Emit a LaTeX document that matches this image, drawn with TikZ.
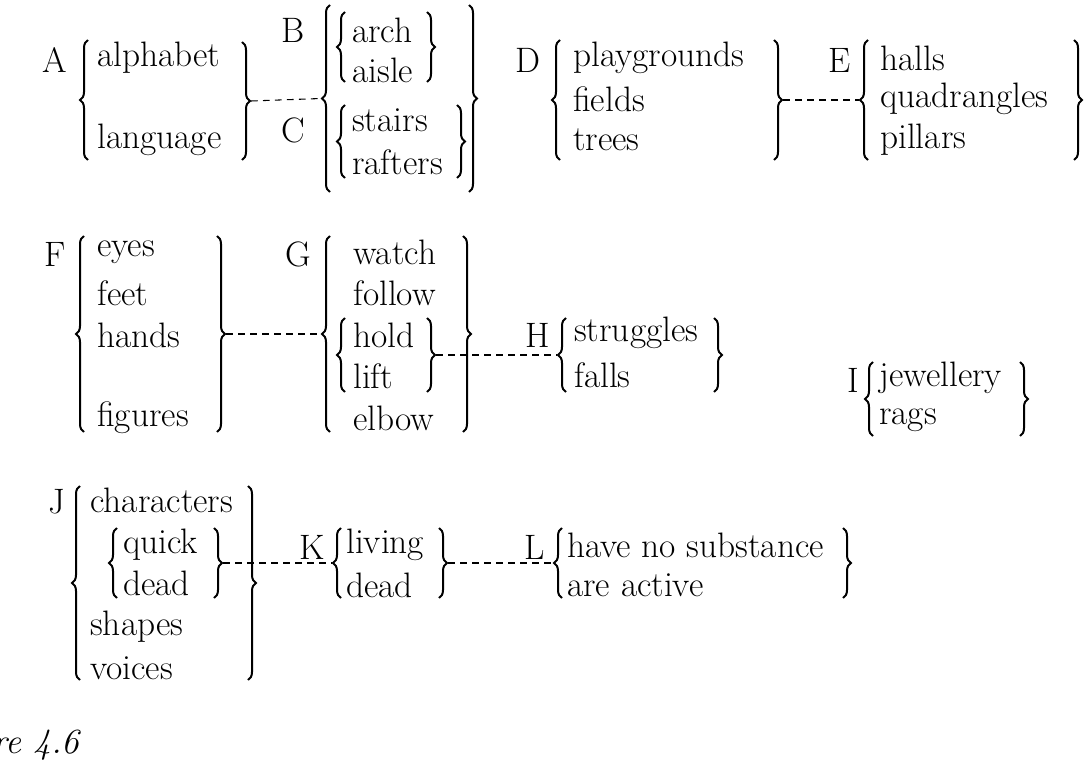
\documentclass[tikz,border=0pt]{standalone}
\usetikzlibrary{decorations.pathreplacing}
\tikzset{
  br/.style={decorate,decoration={brace,amplitude=6pt,aspect=0.5},line width=1.5pt},
  tx/.style={anchor=west,inner sep=0pt,font=\fontsize{26.5}{30}\selectfont},
  lab/.style={anchor=center,inner sep=0pt,font=\fontsize{26.5}{30}\selectfont},
  dl/.style={line width=0.8pt,dash pattern=on 5pt off 4pt}
}
\newcommand{\LBr}[4]{\draw[br] (#1,#3) -- (#1,#2); \coordinate (#4) at (#1-9,{(#2+#3)/2});}
\newcommand{\RBr}[4]{\draw[br] (#1,#2) -- (#1,#3); \coordinate (#4) at (#1+9,{(#2+#3)/2});}
\begin{document}
\begin{tikzpicture}[x=0.75pt,y=-0.75pt]
\useasboundingbox (0,0) rectangle (1090,763);
% Row 1
\node[lab] (A) at (55,60) {A};
\LBr{88}{40}{160}{aL}
\node[tx] (t1) at (97,58) {alphabet};
\node[tx] (t2) at (97,140) {language};
\RBr{242}{42}{160}{aR}
\node[lab] (B) at (293,30) {B};
\node[lab] (C) at (293,130) {C};
\LBr{330}{5}{192}{bcL}
\LBr{345}{12}{82}{bL}
\node[tx] (t3) at (352,30) {arch};
\node[tx] (t4) at (352,70) {aisle};
\RBr{427}{12}{82}{bR}
\LBr{345}{105}{178}{cL}
\node[tx] (t5) at (352,120) {stairs};
\node[tx] (t6) at (352,162) {rafters};
\RBr{457}{105}{178}{cR}
\RBr{469}{5}{192}{bcR}
\draw[dl] (aR) -- (bcL);
\node[lab] (D) at (528,60) {D};
\LBr{560}{40}{160}{dL}
\node[tx] (t7) at (573,58) {playgrounds};
\node[tx] (t8) at (573,99) {fields};
\node[tx] (t9) at (573,140) {trees};
\RBr{774}{40}{160}{dR}
\node[lab] (E) at (840,60) {E};
\LBr{868}{40}{160}{eL}
\node[tx] (t10) at (880,58) {halls};
\node[tx] (t11) at (880,99) {quadrangles};
\node[tx] (t12) at (880,140) {pillars};
\RBr{1074}{40}{160}{eR}
\draw[dl] (dR) -- (eL);
% Row 2
\node[lab] (F) at (55,254) {F};
\LBr{84}{236}{432}{fL}
\node[tx] (t13) at (97,252) {eyes};
\node[tx] (t14) at (97,293) {feet};
\node[tx] (t15) at (97,335) {hands};
\node[tx] (t16) at (97,418) {figures};
\RBr{217}{236}{432}{fR}
\node[lab] (G) at (298,254) {G};
\LBr{330}{236}{432}{gL}
\node[tx] (t17) at (353,252) {watch};
\node[tx] (t18) at (353,293) {follow};
\LBr{345}{318}{392}{hlL}
\node[tx] (t19) at (353,335) {hold};
\node[tx] (t20) at (353,376) {lift};
\RBr{427}{318}{392}{hlR}
\node[tx] (t21) at (353,418) {elbow};
\RBr{463}{236}{432}{gR}
\draw[dl] (fR) -- (gL);
\node[lab] (H) at (538,335) {H};
\LBr{566}{318}{392}{hL}
\node[tx] (t22) at (574,333) {struggles};
\node[tx] (t23) at (574,375) {falls};
\RBr{714}{318}{392}{hR}
\draw[dl] (hlR) -- (hL);
\node[lab] (I) at (853,380) {I};
\LBr{873}{362}{436}{iL}
\node[tx] (t24) at (879,378) {jewellery};
\node[tx] (t25) at (879,420) {rags};
\RBr{1020}{362}{436}{iR}
% Row 3
\node[lab] (J) at (57,502) {J};
\LBr{80}{486}{680}{jL}
\node[tx] (t26) at (90,500) {characters};
\LBr{117}{528}{598}{qL}
\node[tx] (t27) at (123,545) {quick};
\node[tx] (t28) at (123,583) {dead};
\RBr{214}{528}{598}{qR}
\node[tx] (t29) at (90,627) {shapes};
\node[tx] (t30) at (90,668) {voices};
\RBr{248}{486}{680}{jR}
\node[lab] (K) at (312,547) {K};
\LBr{341}{528}{598}{kL}
\node[tx] (t31) at (346,545) {living};
\node[tx] (t32) at (346,585) {dead};
\RBr{439}{528}{598}{kR}
\draw[dl] (qR) -- (kL);
\node[lab] (L) at (535,547) {L};
\LBr{562}{528}{598}{lL}
\node[tx] (t33) at (567,545) {have no substance};
\node[tx] (t34) at (567,585) {are active};
\RBr{843}{528}{598}{lR}
\draw[dl] (kR) -- (lL);
\node[anchor=west,inner sep=0pt,font=\fontsize{26.5}{30}\selectfont\itshape] (cap) at (-8,745) {re 4.6};
\end{tikzpicture}
\end{document}
